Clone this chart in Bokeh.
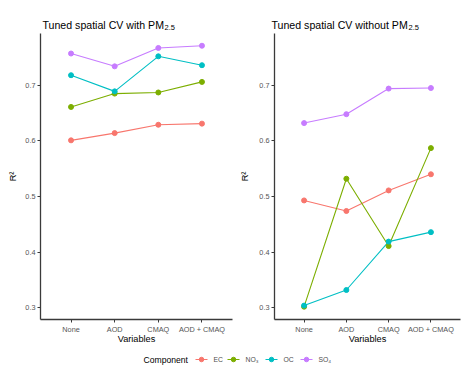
from bokeh.plotting import figure
from bokeh.models import Range1d, FactorRange, FixedTicker
from bokeh.layouts import column, row
from bokeh.core.properties import value
from bokeh.embed import file_html
from bokeh.resources import INLINE

categories = ["None", "AOD", "CMAQ", "AOD + CMAQ"]
components = ["EC", "NO3", "OC", "SO4"]
legend_labels = ["EC", "NO₃", "OC", "SO₄"]
colors = ["#F8766D", "#7CAE00", "#00BFC4", "#C77CFF"]

with_ec = [0.601, 0.614, 0.629, 0.631]
with_no3 = [0.661, 0.685, 0.687, 0.706]
with_oc = [0.718, 0.689, 0.752, 0.736]
with_so4 = [0.757, 0.734, 0.767, 0.771]

without_ec = [0.493, 0.474, 0.511, 0.540]
without_no3 = [0.302, 0.532, 0.411, 0.587]
without_oc = [0.304, 0.332, 0.419, 0.436]
without_so4 = [0.632, 0.648, 0.694, 0.695]

y_ticks = [0.3, 0.4, 0.5, 0.6, 0.7]

titles = ["Tuned spatial CV with PM", "Tuned spatial CV without PM"]
title_sub = "2.5"

FONT = "Liberation Sans"


def strip(width, height):
    f = figure(width=width, height=height, output_backend="svg", toolbar_location=None,
               x_range=Range1d(0, width), y_range=Range1d(0, height), min_border=0)
    f.axis.visible = False
    f.grid.visible = False
    f.outline_line_color = None
    return f


def make_panel(series, left_border, right_border, label_standoff):
    p = figure(width=237, height=315, output_backend="svg", toolbar_location=None,
               x_range=FactorRange(factors=categories, range_padding=0.2,
                                   range_padding_units="absolute"),
               y_range=Range1d(0.279, 0.793),
               min_border_left=left_border, min_border_right=right_border,
               min_border_top=0, min_border_bottom=29)
    p.outline_line_color = None
    p.grid.visible = False
    for ax in (p.xaxis[0], p.yaxis[0]):
        ax.axis_line_color = "#3a3a3a"
        ax.axis_line_width = 1.3
        ax.major_tick_line_color = "#3a3a3a"
        ax.major_tick_out = 3
        ax.major_tick_in = 0
        ax.minor_tick_line_color = None
        ax.major_label_text_color = "#555555"
        ax.major_label_text_font = FONT
        ax.major_label_text_font_size = "7.3px"
        ax.axis_label_text_font = FONT
        ax.axis_label_text_font_style = "normal"
        ax.axis_label_text_color = "black"
        ax.axis_label_text_font_size = "9.2px"
    p.xaxis.axis_label = "Variables"
    p.xaxis.major_label_standoff = 2
    p.xaxis.axis_label_standoff = -3
    p.yaxis.axis_label = "R²"
    p.yaxis.major_label_standoff = 2
    p.yaxis.axis_label_standoff = label_standoff
    p.yaxis.ticker = FixedTicker(ticks=y_ticks)

    for vals, col in zip(series, colors):
        p.line(categories, vals, line_color=col, line_width=1.1)
    for vals, col in zip(series, colors):
        p.scatter(categories, vals, size=5, fill_color=col, line_color=col)
    return p


p1 = make_panel([with_ec, with_no3, with_oc, with_so4], 40, 5, 4)
p2 = make_panel([without_ec, without_no3, without_oc, without_so4], 32, 14, 6)

# header with the two panel titles
head = strip(474, 33)
title_x = [42, 271]
sub_x = [164, 408]
for tx, sx, t in zip(title_x, sub_x, titles):
    head.text([tx], [9], text=[t], text_font=value(FONT), text_font_size="10.6px",
              text_baseline="alphabetic", text_color="black")
    head.text([sx], [6], text=[title_sub], text_font=value(FONT), text_font_size="7.5px",
              text_baseline="alphabetic", text_color="black")

# legend strip
leg = strip(474, 27)
leg.text([143], [16], text=["Component"], text_font=value(FONT), text_font_size="8.6px",
         text_baseline="middle", text_color="black")
key_x = [201, 233, 271, 306]
for kx, col, lab in zip(key_x, colors, legend_labels):
    leg.segment([kx - 6], [16], [kx + 6], [16], line_color=col, line_width=1.1)
    leg.scatter([kx], [16], size=4.5, fill_color=col, line_color=col)
    leg.text([kx + 12], [16], text=[lab], text_font=value(FONT), text_font_size="6.8px",
             text_baseline="middle", text_color="#4D4D4D")

layout = column(head, row(p1, p2), leg, spacing=0)
open("out.html", "w").write(file_html(layout, INLINE))
